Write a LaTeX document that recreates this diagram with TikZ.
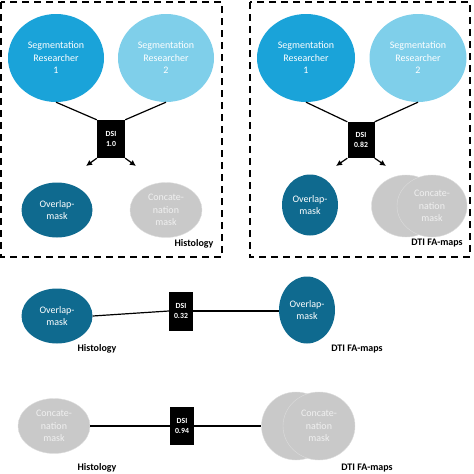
\documentclass[tikz,border=0pt]{standalone}
\usepackage{fontspec}
\setmainfont{Carlito}
\usetikzlibrary{shapes.geometric}
\usetikzlibrary{arrows.meta}

\definecolor{resone}{HTML}{1AA3D9}
\definecolor{restwo}{HTML}{7FCFEA}
\definecolor{overlapc}{HTML}{0F6A8F}
\definecolor{concatc}{HTML}{C9C9C9}
\definecolor{concatline}{HTML}{DCDCDC}

\begin{document}
\begin{tikzpicture}
[x=1pt,y=-1pt,
researcher/.style={ellipse, inner sep=0pt, text=white, align=center,
font=\fontsize{10}{12.5}\selectfont},
oval/.style ={ellipse, inner sep=0pt, text=white, align=center,
fill=overlapc, font=\fontsize{10}{12.5}\selectfont},
concat/.style ={ellipse, inner sep=0pt, text=white!88!gray, align=center,
fill=concatc, draw=concatline, thin, font=\fontsize{10}{12.5}\selectfont},
dsi/.style ={rectangle, fill=black, text=white, align=center, inner sep=0pt,
font=\bfseries\fontsize{7.8}{10.5}\selectfont},
label/.style ={font=\bfseries\fontsize{10}{12}\selectfont},
line/.style ={draw, line width=1.2pt},
arrow/.style ={draw, line width=1.2pt, -{Latex[length=6pt,width=6pt]}},
frame/.style ={draw, line width=1.6pt, dash pattern=on 7pt off 5pt}]
\useasboundingbox (0,0) rectangle (474,474);
% dashed frames
\draw [frame] (1,2) rectangle (222,257);
\draw [frame] (250,2) rectangle (470,257);
% histology frame
\node [researcher, fill=resone, minimum width=96pt, minimum height=88pt] (resa1) at (56,58) {Segmentation\\Researcher\\1};
\node [researcher, fill=restwo, minimum width=96pt, minimum height=88pt] (resa2) at (166,58) {Segmentation\\Researcher\\2};
\node [dsi, minimum width=28pt, minimum height=38pt] (dsia) at (111,139) {DSI\\1.0};
\node [oval, minimum width=71pt, minimum height=55pt] (ova) at (57,210) {Overlap-\\mask};
\node [concat, minimum width=72pt, minimum height=55pt] (cona) at (166,210) {Concate-\\nation\\mask};
\node [label] (hista) at (194,244) {Histology};
\coordinate (enda1) at (86,166);
\coordinate (enda2) at (136,166);
% dti frame
\node [researcher, fill=resone, minimum width=98pt, minimum height=88pt] (resb1) at (306,58) {Segmentation\\Researcher\\1};
\node [researcher, fill=restwo, minimum width=97pt, minimum height=88pt] (resb2) at (418,58) {Segmentation\\Researcher\\2};
\node [dsi, minimum width=27pt, minimum height=36pt] (dsib) at (361,140) {DSI\\0.82};
\node [oval, minimum width=56pt, minimum height=61pt] (ovb) at (310,205) {Overlap-\\mask};
\node [concat, minimum width=69pt, minimum height=62pt] (conbback) at (406,206) {};
\node [concat, minimum width=70pt, minimum height=62pt] (conb) at (432,206) {Concate-\\nation\\mask};
\node [label] (dtib) at (437,243) {DTI FA-maps};
\coordinate (endb1) at (336,166);
\coordinate (endb2) at (386,166);
% overlap comparison
\node [oval, minimum width=71pt, minimum height=55pt] (ovc) at (57,316) {Overlap-\\mask};
\node [dsi, minimum width=24pt, minimum height=39pt] (dsic) at (181,311) {DSI\\0.32};
\node [oval, minimum width=56pt, minimum height=67pt] (ovd) at (307,310) {Overlap-\\mask};
\node [label] (histc) at (97,349) {Histology};
\node [label] (dtic) at (357,349) {DTI FA-maps};
% concatenation comparison
\node [concat, minimum width=72pt, minimum height=55pt] (conc) at (54,426) {Concate-\\nation\\mask};
\node [dsi, minimum width=24pt, minimum height=38pt] (dsid) at (182,426) {DSI\\0.94};
\node [concat, minimum width=69pt, minimum height=68pt] (condback) at (296,426) {};
\node [concat, minimum width=72pt, minimum height=68pt] (cond) at (319,426) {Concate-\\nation\\mask};
\node [label] (histd) at (97,468) {Histology};
\node [label] (dtid) at (367,468) {DTI FA-maps};
\begin{scope}[every path/.style=line]
\path (resa1.south) -- (dsia.north west);
\path (resa2.south) -- (dsia.north east);
\path (resb1.south) -- (dsib.north west);
\path (resb2.south) -- (dsib.north east);
\path (ovc.east) -- (dsic.west);
\path (dsic.east) -- (ovd.west |- dsic.east);
\path (conc.east) -- (dsid.west);
\path (dsid.east) -- (condback.west);
\end{scope}
\begin{scope}[every path/.style=arrow]
\path (dsia.south west) -- (enda1);
\path (dsia.south east) -- (enda2);
\path (dsib.south west) -- (endb1);
\path (dsib.south east) -- (endb2);
\end{scope}
\end{tikzpicture}
\end{document}
